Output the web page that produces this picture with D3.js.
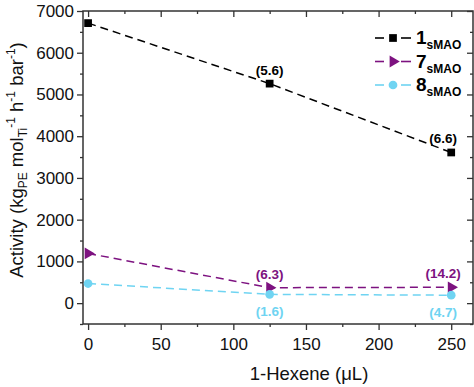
<!DOCTYPE html>
<html>
<head>
<meta charset="utf-8">
<script src="https://cdn.jsdelivr.net/npm/d3@7"></script>
<style>
 body { margin: 0; background: #fff; }
 text { font-family: "Liberation Sans", Arial, sans-serif; }
</style>
</head>
<body>
<svg id="chart" width="474" height="387"></svg>
<script>
/* activity vs 1-hexene, three catalysts */
var hexene = [0, 125, 250];
var act1 = [6710, 5260, 3610];
var act7 = [1190, 370, 380];
var act8 = [470, 210, 190];
var lab1 = [null, "(5.6)", "(6.6)"];
var lab7 = [null, "(6.3)", "(14.2)"];
var lab8 = [null, "(1.6)", "(4.7)"];
var names = ["1", "7", "8"];
var xTicks = [0, 50, 100, 150, 200, 250];
var yTicks = [0, 1000, 2000, 3000, 4000, 5000, 6000, 7000];

var svg = d3.select("#chart");
var L = 83, R = 473, T = 11, B = 324;
var x = d3.scaleLinear().domain([-3.5, 265]).range([L, R]);
var y = d3.scaleLinear().domain([-500, 7000]).range([B, T]);

var purple = "#7d1280", cyan = "#6fd4f2";

// frame
svg.append("rect").attr("x", L).attr("y", T).attr("width", R - L).attr("height", B - T)
  .attr("fill", "none").attr("stroke", "#333").attr("stroke-width", 1.5);

var xMinor = d3.range(25, 265, 50);
var yMinor = d3.range(-500, 7000, 1000);

function noDomain(g){ g.select(".domain").remove(); }

// bottom axis, ticks outward
svg.append("g").attr("transform", "translate(0," + B + ")")
  .call(d3.axisBottom(x).tickValues(xTicks).tickSize(6).tickPadding(8).tickFormat(d3.format("d")))
  .call(noDomain);
svg.append("g").attr("transform", "translate(0," + B + ")")
  .call(d3.axisBottom(x).tickValues(xMinor).tickSize(3).tickFormat("")).call(noDomain);
// top axis, ticks inward
svg.append("g").attr("transform", "translate(0," + T + ")")
  .call(d3.axisBottom(x).tickValues(xTicks).tickSize(6).tickFormat("")).call(noDomain);
svg.append("g").attr("transform", "translate(0," + T + ")")
  .call(d3.axisBottom(x).tickValues(xMinor).tickSize(3).tickFormat("")).call(noDomain);
// left axis outward
svg.append("g").attr("transform", "translate(" + L + ",0)")
  .call(d3.axisLeft(y).tickValues(yTicks).tickSize(6).tickPadding(3).tickFormat(d3.format("d")))
  .call(noDomain);
svg.append("g").attr("transform", "translate(" + L + ",0)")
  .call(d3.axisLeft(y).tickValues(yMinor).tickSize(3).tickFormat("")).call(noDomain);
// right axis inward
svg.append("g").attr("transform", "translate(" + R + ",0)")
  .call(d3.axisLeft(y).tickValues(yTicks).tickSize(6).tickFormat("")).call(noDomain);
svg.append("g").attr("transform", "translate(" + R + ",0)")
  .call(d3.axisLeft(y).tickValues(yMinor).tickSize(3).tickFormat("")).call(noDomain);

svg.selectAll(".tick line").attr("stroke", "#333").attr("stroke-width", 1.3);
svg.selectAll(".tick text").attr("font-size", 17).attr("fill", "#111")
  .attr("font-family", "Liberation Sans, Arial, sans-serif");

// axis titles
svg.append("text").attr("x", 309).attr("y", 380).attr("text-anchor", "middle")
  .attr("font-size", 18.5).attr("fill", "#111").text("1-Hexene (μL)");

var yt = svg.append("text").attr("transform", "translate(23,160) rotate(-90)")
  .attr("text-anchor", "middle").attr("font-size", 18.5).attr("fill", "#111");
yt.append("tspan").text("Activity (kg");
yt.append("tspan").attr("font-size", 12).attr("dy", 4).text("PE");
yt.append("tspan").attr("dy", -4).text(" mol");
yt.append("tspan").attr("font-size", 12).attr("dy", 4).text("Ti");
yt.append("tspan").attr("font-size", 12).attr("dy", -12).text("-1");
yt.append("tspan").attr("dy", 8).text(" h");
yt.append("tspan").attr("font-size", 12).attr("dy", -8).text("-1");
yt.append("tspan").attr("dy", 8).text(" bar");
yt.append("tspan").attr("font-size", 12).attr("dy", -8).text("-1");
yt.append("tspan").attr("dy", 8).text(")");

var series = [
  { vals: act1, color: "#000", sym: d3.symbolSquare, size: 60, rot: 0, labs: lab1, pos: "up" },
  { vals: act7, color: purple, sym: d3.symbolTriangle, size: 60, rot: 90, labs: lab7, pos: "up" },
  { vals: act8, color: cyan, sym: d3.symbolCircle, size: 60, rot: 0, labs: lab8, pos: "down" }
];

var line = d3.line().x(function(d){ return x(d[0]); }).y(function(d){ return y(d[1]); });

series.forEach(function(s, si){
  var pts = hexene.map(function(h, i){ return [h, s.vals[i]]; });
  svg.append("path").datum(pts).attr("d", line).attr("fill", "none")
    .attr("stroke", s.color).attr("stroke-width", 1.5).attr("stroke-dasharray", "8,5");
  svg.selectAll(".m" + si).data(pts).enter().append("path")
    .attr("d", d3.symbol().type(s.sym).size(s.size))
    .attr("transform", function(d){ return "translate(" + x(d[0]) + "," + y(d[1]) + ") rotate(" + s.rot + ")"; })
    .attr("fill", s.color);
  pts.forEach(function(d, i){
    if (!s.labs[i]) return;
    var dx = i == 2 ? -8 : 0;
    var dy = s.pos == "up" ? -9 : 22;
    svg.append("text").attr("x", x(d[0]) + dx).attr("y", y(d[1]) + dy)
      .attr("text-anchor", "middle").attr("font-size", 13.5).attr("font-weight", "bold")
      .attr("fill", s.color).text(s.labs[i]);
  });

  // legend: short dash, marker, short dash
  var ly = 38 + si * 23.5;
  [[375, 384], [401, 411]].forEach(function(seg){
    svg.append("line").attr("x1", seg[0]).attr("x2", seg[1]).attr("y1", ly).attr("y2", ly)
      .attr("stroke", s.color).attr("stroke-width", 1.6);
  });
  svg.append("path").attr("d", d3.symbol().type(s.sym).size(s.size))
    .attr("transform", "translate(393," + ly + ") rotate(" + s.rot + ")").attr("fill", s.color);
  var lt = svg.append("text").attr("x", 416).attr("y", ly + 6).attr("font-size", 19)
    .attr("font-weight", "bold").attr("fill", "#000");
  lt.append("tspan").text(names[si]);
  lt.append("tspan").attr("font-size", 12).attr("dy", 5).text("sMAO");
});
</script>
</body>
</html>
